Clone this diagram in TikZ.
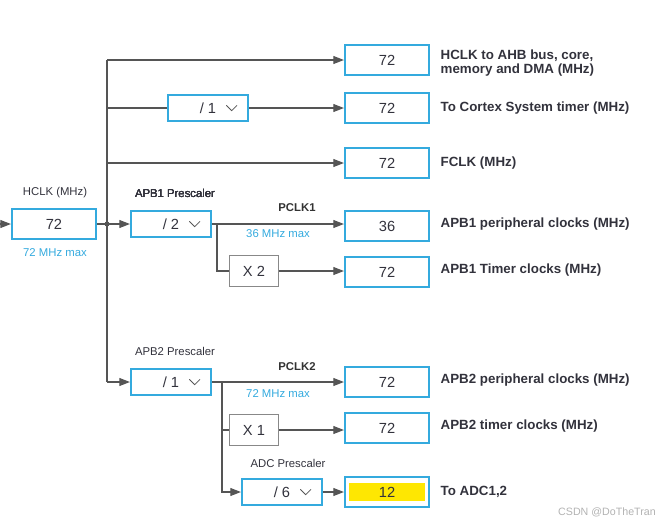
\documentclass[tikz,border=0pt]{standalone}
\usepackage{fontspec}
\setmainfont{Liberation Sans}
\usepackage{tikz}
\usetikzlibrary{arrows.meta, positioning}
\definecolor{stblue}{RGB}{52,170,222}
\definecolor{stgray}{RGB}{85,85,85}
\definecolor{sttext}{RGB}{50,50,60}
\tikzstyle{outbox}=[draw=stblue, line width=1.6pt, minimum width=63pt, minimum height=23pt, inner sep=0pt, font=\fontsize{11}{12}\selectfont, text=sttext]
\tikzstyle{presc}=[draw=stblue, line width=1.6pt, minimum width=60pt, minimum height=19pt, inner sep=0pt, font=\fontsize{11}{12}\selectfont, text=sttext]
\tikzstyle{mult}=[draw=stgray!70, line width=0.6pt, minimum width=37pt, minimum height=23pt, inner sep=0pt, font=\fontsize{11}{12}\selectfont, text=sttext]
\tikzstyle{outlabel}=[anchor=west, font=\fontsize{10}{10.5}\selectfont\bfseries, text=sttext, align=left]
\tikzstyle{caption}=[font=\fontsize{8.5}{10}\selectfont, text=sttext]
\tikzstyle{maxlabel}=[font=\fontsize{8.5}{10}\selectfont, text=stblue]
\tikzstyle{wire}=[draw=stgray, line width=0.8pt]
\tikzstyle{arr}=[wire, -{Triangle[length=8pt, width=6pt]}]
\newcommand{\chevron}[1]{\draw[stgray, line width=0.6pt] ([xshift=-17pt, yshift=2pt]#1.east) -- ++(4pt,-4pt) -- ++(4pt,4pt);}

\begin{document}
\begin{tikzpicture}[x=0.75pt, y=-0.75pt]
	\useasboundingbox (0,0) rectangle (657,526);
	% inputs
	\node[outbox] (hclk) at (54,224) {72};
	\node[caption] (hclkcap) at (55,193) {HCLK (MHz)};
	\node[maxlabel] (hclkmax) at (55,253) {72 MHz max};
	\coordinate (in) at (0,224);
	\coordinate (bus) at (107,224);
	\coordinate (bustop) at (107,60);
	\coordinate (busbot) at (107,382);
	% outputs
	\foreach \nm/\y/\val in {ahb/60/72, cortex/108/72, fclk/163/72, apbone/226/36, timone/272/72, apbtwo/382/72, timtwo/428/72}
		\node[outbox] (\nm) at (387,\y) {\val};
	\node[outbox, fill=white] (adc) at (387,492) {};
	\node[fill=yellow!90!orange, minimum width=57pt, minimum height=13pt, inner sep=0pt, font=\fontsize{11}{12}\selectfont, text=sttext] at (adc) {12};
	\node[outlabel] at (436,63) {HCLK to AHB bus, core,\\memory and DMA (MHz)};
	\node[outlabel] at (436,108) {To Cortex System timer (MHz)};
	\node[outlabel] at (436,163) {FCLK (MHz)};
	\node[outlabel] at (436,224) {APB1 peripheral clocks (MHz)};
	\node[outlabel] at (436,270) {APB1 Timer clocks (MHz)};
	\node[outlabel] at (436,380) {APB2 peripheral clocks (MHz)};
	\node[outlabel] at (436,426) {APB2 timer clocks (MHz)};
	\node[outlabel] at (436,492) {To ADC1,2};
	% prescalers
	\node[presc] (sysdiv) at (208,108) {/ 1\hspace{28pt}};
	\node[presc] (apbonediv) at (171,224) {/ 2\hspace{28pt}};
	\node[presc] (apbtwodiv) at (171,382) {/ 1\hspace{28pt}};
	\node[presc] (adcdiv) at (282,492) {/ 6\hspace{28pt}};
	\foreach \p in {sysdiv, apbonediv, apbtwodiv, adcdiv}
		\chevron{\p}
	\node[caption] at (175,193) {APB1 Prescaler};
	\node[caption] at (175,351) {APB2 Prescaler};
	\node[caption] at (288,463) {ADC Prescaler};
	\node[mult] (xtwo) at (254,271) {X 2};
	\node[mult] (xone) at (254,430) {X 1};
	\node[font=\fontsize{8.5}{10}\selectfont\bfseries, text=black!80] at (297,208) {PCLK1};
	\node[maxlabel] at (278,234) {36 MHz max};
	\node[font=\fontsize{8.5}{10}\selectfont\bfseries, text=black!80] at (297,367) {PCLK2};
	\node[maxlabel] at (278,394) {72 MHz max};
	\node[text=gray!60, font=\fontsize{8}{9}\selectfont] at (607,512) {CSDN @DoTheTran};
	% wires
	\draw[arr] (in) -- (hclk);
	\draw[wire] (hclk) -- (bus);
	\fill[stgray] (bus) circle (2.5);
	\draw[wire] (bustop) -- (busbot);
	\draw[arr] (bustop) -- (ahb);
	\draw[wire] (bus |- sysdiv) -- (sysdiv);
	\draw[arr] (sysdiv) -- (cortex);
	\draw[arr] (bus |- fclk) -- (fclk);
	\draw[arr] (bus) -- (apbonediv);
	\draw[arr] (busbot) -- (apbtwodiv);
	\draw[arr] (apbonediv.east) -- (apbonediv.east -| apbone.west);
	\draw[wire] (217,224) |- (xtwo);
	\draw[arr] (xtwo) -- (xtwo -| timone.west);
	\draw[arr] (apbtwodiv.east) -- (apbtwodiv.east -| apbtwo.west);
	\draw[wire] (222,382) |- (xone);
	\draw[arr] (222,430) -- (222,492) -- (adcdiv);
	\draw[arr] (xone) -- (xone -| timtwo.west);
	\draw[arr] (adcdiv) -- (adc);
\end{tikzpicture}
\end{document}
